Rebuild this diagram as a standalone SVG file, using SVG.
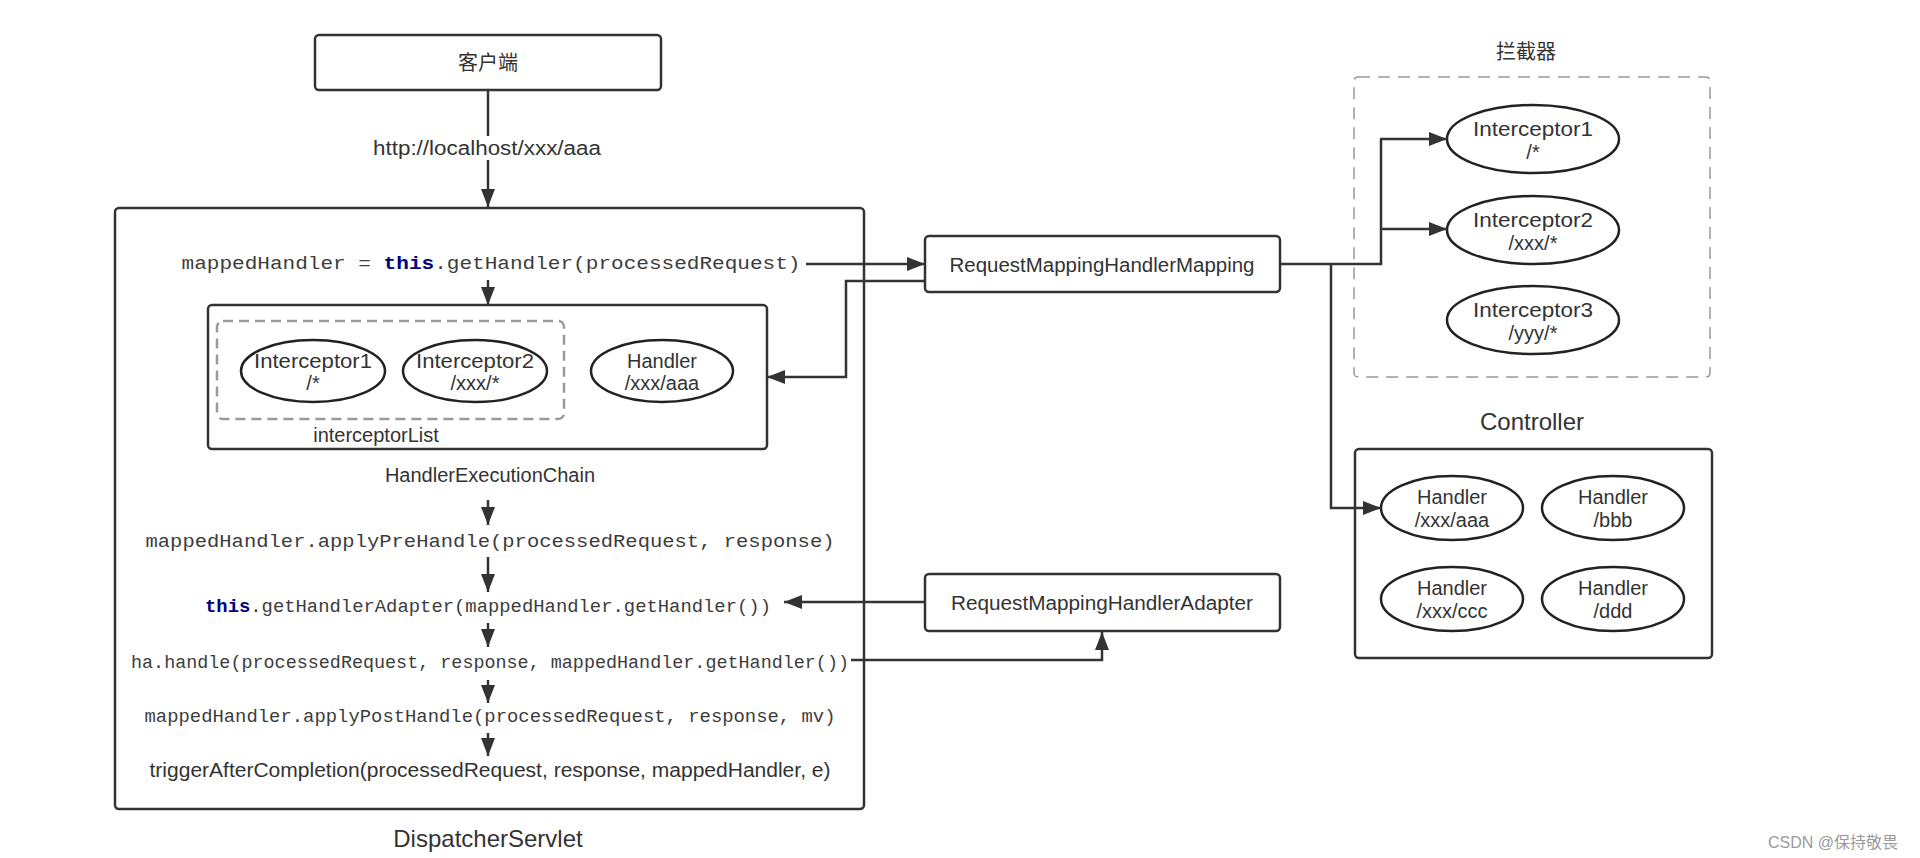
<svg xmlns="http://www.w3.org/2000/svg" width="1920" height="858" viewBox="0 0 1920 858">
<defs>
<style>
.box{fill:#fff;stroke:#333;stroke-width:2.5}
.dash1{fill:none;stroke:#9a9a9a;stroke-width:2.5;stroke-dasharray:10 6}
.dash2{fill:none;stroke:#999;stroke-width:1.5;stroke-dasharray:12 8}
.ell{fill:#fff;stroke:#222;stroke-width:2.5}
.t{font-family:"Liberation Sans","Noto Sans CJK SC",sans-serif;font-size:20px;fill:#333;text-anchor:middle;dominant-baseline:central}
.m{font-family:"Liberation Mono","Courier New",monospace;font-size:19px;fill:#3c3c3c;text-anchor:middle;dominant-baseline:central}
.kw{fill:#000080;font-weight:bold}
.big{font-size:24px}
.ln{fill:none;stroke:#333;stroke-width:2.5}
.arr{marker-end:url(#ah)}
</style>
<marker id="ah" markerWidth="18" markerHeight="14" refX="18" refY="7" orient="auto" markerUnits="userSpaceOnUse">
<path d="M0,0 L18,7 L0,14 z" fill="#333"/>
</marker>
</defs>
<rect width="1920" height="858" fill="#fff"/>

<g id="client">
<rect class="box" x="315" y="35" width="346" height="55" rx="4"/>
<text class="t" x="488" y="63">客户端</text>
</g>

<g id="dispatcherServlet">
<rect class="box" x="115" y="208" width="749" height="601" rx="4"/>
<text class="t big" x="488" y="838">DispatcherServlet</text>
</g>

<g id="getHandler">
<text class="m" x="491" y="264" font-size="20" textLength="619" lengthAdjust="spacingAndGlyphs">mappedHandler = <tspan class="kw">this</tspan>.getHandler(processedRequest)</text>
</g>

<g id="handlerExecutionChain">
<rect class="box" x="208" y="305" width="559" height="144" rx="4"/>
<rect class="dash1" x="217" y="321" width="347" height="98" rx="6"/>
<text class="t" x="376" y="435">interceptorList</text>
<text class="t" x="490" y="475">HandlerExecutionChain</text>
</g>
<g id="hec-interceptor1">
<ellipse class="ell" cx="313" cy="371" rx="72" ry="31"/>
<text class="t" x="313" y="361" textLength="118" lengthAdjust="spacingAndGlyphs">Interceptor1</text>
<text class="t" x="313" y="383">/*</text>
</g>
<g id="hec-interceptor2">
<ellipse class="ell" cx="475" cy="371" rx="72" ry="31"/>
<text class="t" x="475" y="361" textLength="118" lengthAdjust="spacingAndGlyphs">Interceptor2</text>
<text class="t" x="475" y="383">/xxx/*</text>
</g>
<g id="hec-handler">
<ellipse class="ell" cx="662" cy="371" rx="71" ry="31"/>
<text class="t" x="662" y="361">Handler</text>
<text class="t" x="662" y="383">/xxx/aaa</text>
</g>

<g id="applyPreHandle">
<text class="m" x="490" y="542" textLength="689" lengthAdjust="spacingAndGlyphs">mappedHandler.applyPreHandle(processedRequest, response)</text>
</g>
<g id="getHandlerAdapter">
<text class="m" x="488" y="607" textLength="566" lengthAdjust="spacingAndGlyphs"><tspan class="kw">this</tspan>.getHandlerAdapter(mappedHandler.getHandler())</text>
</g>
<g id="haHandle">
<text class="m" x="490" y="663" textLength="718" lengthAdjust="spacingAndGlyphs">ha.handle(processedRequest, response, mappedHandler.getHandler())</text>
</g>
<g id="applyPostHandle">
<text class="m" x="490" y="717" textLength="691" lengthAdjust="spacingAndGlyphs">mappedHandler.applyPostHandle(processedRequest, response, mv)</text>
</g>
<g id="triggerAfterCompletion">
<text class="t" x="490" y="770" textLength="681" lengthAdjust="spacingAndGlyphs">triggerAfterCompletion(processedRequest, response, mappedHandler, e)</text>
</g>

<g id="requestMappingHandlerMapping">
<rect class="box" x="925" y="236" width="355" height="56" rx="4"/>
<text class="t" x="1102" y="265" textLength="305" lengthAdjust="spacingAndGlyphs">RequestMappingHandlerMapping</text>
</g>
<g id="requestMappingHandlerAdapter">
<rect class="box" x="925" y="574" width="355" height="57" rx="4"/>
<text class="t" x="1102" y="603" textLength="302" lengthAdjust="spacingAndGlyphs">RequestMappingHandlerAdapter</text>
</g>

<g id="interceptors">
<text class="t" x="1526" y="52" font-size="23">拦截器</text>
<rect class="dash2" x="1354" y="77" width="356" height="300" rx="4"/>
</g>
<g id="interceptor1">
<ellipse class="ell" cx="1533" cy="139" rx="86" ry="34"/>
<text class="t" x="1533" y="129" textLength="120" lengthAdjust="spacingAndGlyphs">Interceptor1</text>
<text class="t" x="1533" y="152">/*</text>
</g>
<g id="interceptor2">
<ellipse class="ell" cx="1533" cy="230" rx="86" ry="34"/>
<text class="t" x="1533" y="220" textLength="120" lengthAdjust="spacingAndGlyphs">Interceptor2</text>
<text class="t" x="1533" y="243">/xxx/*</text>
</g>
<g id="interceptor3">
<ellipse class="ell" cx="1533" cy="320" rx="86" ry="34"/>
<text class="t" x="1533" y="310" textLength="120" lengthAdjust="spacingAndGlyphs">Interceptor3</text>
<text class="t" x="1533" y="333">/yyy/*</text>
</g>

<g id="controller">
<text class="t big" x="1532" y="421">Controller</text>
<rect class="box" x="1355" y="449" width="357" height="209" rx="4"/>
</g>
<g id="handler-aaa">
<ellipse class="ell" cx="1452" cy="508" rx="71" ry="32"/>
<text class="t" x="1452" y="497">Handler</text>
<text class="t" x="1452" y="520">/xxx/aaa</text>
</g>
<g id="handler-bbb">
<ellipse class="ell" cx="1613" cy="508" rx="71" ry="32"/>
<text class="t" x="1613" y="497">Handler</text>
<text class="t" x="1613" y="520">/bbb</text>
</g>
<g id="handler-ccc">
<ellipse class="ell" cx="1452" cy="599" rx="71" ry="32"/>
<text class="t" x="1452" y="588">Handler</text>
<text class="t" x="1452" y="611">/xxx/ccc</text>
</g>
<g id="handler-ddd">
<ellipse class="ell" cx="1613" cy="599" rx="71" ry="32"/>
<text class="t" x="1613" y="588">Handler</text>
<text class="t" x="1613" y="611">/ddd</text>
</g>

<g id="connectors">
<line class="ln" x1="488" y1="90" x2="488" y2="136"/>
<text class="t" x="487" y="148" textLength="228" lengthAdjust="spacingAndGlyphs">http://localhost/xxx/aaa</text>
<line class="ln arr" x1="488" y1="160" x2="488" y2="207"/>
<line class="ln arr" x1="488" y1="280" x2="488" y2="305"/>
<line class="ln arr" x1="806" y1="264" x2="925" y2="264"/>
<polyline class="ln arr" points="925,281 846,281 846,377 767,377"/>
<polyline class="ln" points="1280,264 1381,264 1381,139"/>
<line class="ln arr" x1="1380" y1="139" x2="1447" y2="139"/>
<line class="ln arr" x1="1381" y1="229" x2="1447" y2="229"/>
<polyline class="ln arr" points="1331,264 1331,508 1381,508"/>
<line class="ln arr" x1="488" y1="500" x2="488" y2="525"/>
<line class="ln arr" x1="488" y1="557" x2="488" y2="592"/>
<line class="ln arr" x1="925" y1="602" x2="784" y2="602"/>
<line class="ln arr" x1="488" y1="623" x2="488" y2="647"/>
<polyline class="ln arr" points="851,660 1102,660 1102,632"/>
<line class="ln arr" x1="488" y1="680" x2="488" y2="703"/>
<line class="ln arr" x1="488" y1="733" x2="488" y2="756"/>
</g>

<g id="watermark">
<text x="1768" y="848" font-family="'Liberation Sans','Noto Sans CJK SC',sans-serif" font-size="16" fill="#9a9a9a">CSDN @保持敬畏</text>
</g>
</svg>
